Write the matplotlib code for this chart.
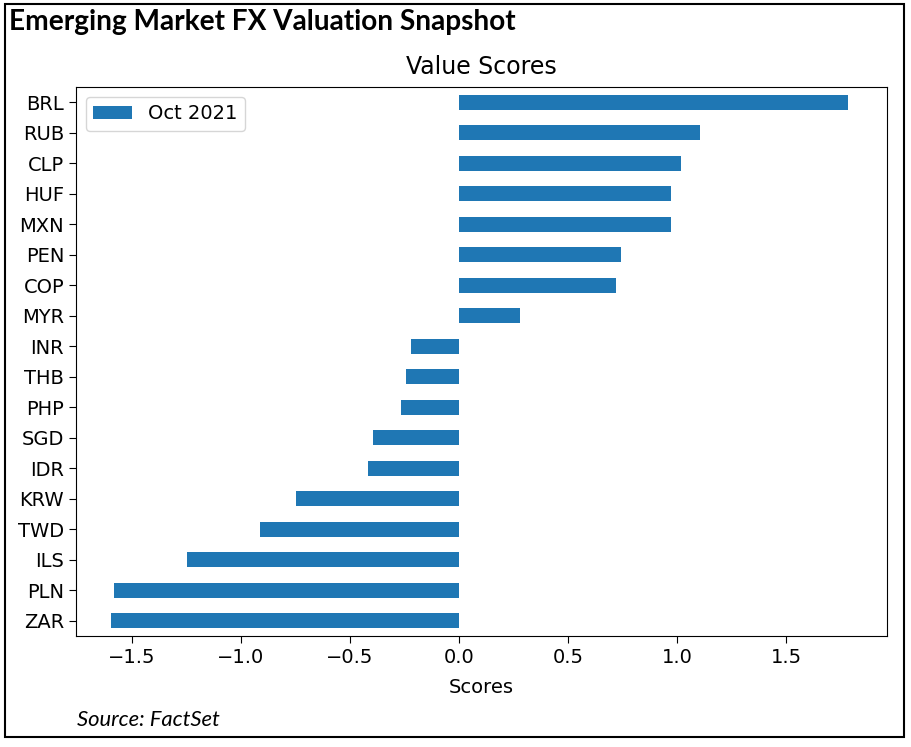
import numpy as np
import matplotlib
matplotlib.use("Agg")
import matplotlib.pyplot as plt
from matplotlib.patches import Rectangle

plt.rcParams['font.family'] = ['DejaVu Sans']

# valores (de baixo para cima)
moedas = ["ZAR", "PLN", "ILS", "TWD", "KRW", "IDR", "SGD", "PHP", "THB", "INR",
          "MYR", "COP", "PEN", "MXN", "HUF", "CLP", "RUB", "BRL"]
scores = [-1.596, -1.582, -1.247, -0.912, -0.748, -0.419, -0.394, -0.268, -0.242, -0.222,
          0.281, 0.722, 0.741, 0.971, 0.971, 1.017, 1.103, 1.785]
serie = "Oct 2021"
titulo = "Emerging Market FX Valuation Snapshot"
fonte = "Source: FactSet"

fig = plt.figure(figsize=(9.12, 7.47), dpi=100)
W, H = 912, 747

# moldura em volta da figura
fig.patches.append(Rectangle((5 / W, 1 - 737 / H), 899 / W, 733 / H,
                             transform=fig.transFigure, fill=False,
                             edgecolor="black", linewidth=1.5))

ax = fig.add_axes([76 / W, 1 - 636 / H, 811 / W, 549 / H])
y = np.arange(len(moedas))
ax.barh(y, scores, height=0.5, color="#1f77b4", label=serie)
ax.set_yticks(y)
ax.set_yticklabels(moedas)
ax.set_ylim(-0.5, len(moedas) - 0.5)
ax.set_xlim(-1.757, 1.963)
ax.set_xticks([-1.5, -1.0, -0.5, 0.0, 0.5, 1.0, 1.5])
ax.tick_params(labelsize=14, length=5)
ax.set_xlabel("Scores", fontsize=14, labelpad=8)
ax.set_title("Value Scores", fontsize=17, pad=9)
ax.legend(loc="upper left", fontsize=14)

fig.text(9 / W, 1 - 22 / H, titulo, fontsize=20.2, fontweight="bold",
         family="Lato", va="center", ha="left")
fig.text(77 / W, 1 - 720 / H, fonte, fontsize=15.8, style="italic",
         family="Lato", va="center", ha="left")

fig.savefig("out.png", dpi=100)
